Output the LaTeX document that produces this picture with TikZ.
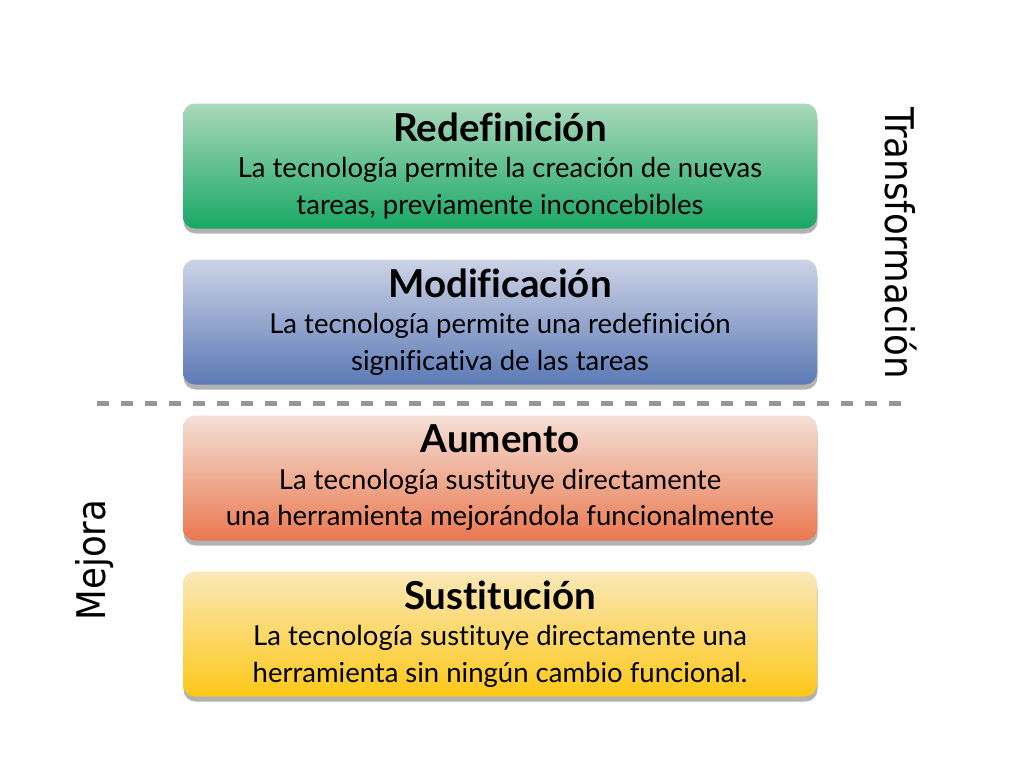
\documentclass[tikz,border=0pt]{standalone}
\usepackage{fontspec}
\setmainfont{Lato}[Ligatures=NoCommon]
\newfontfamily\sidefont{DejaVu Sans Condensed}
\usetikzlibrary{shadows}
\definecolor{gtop}{RGB}{170,216,186}
\definecolor{gbot}{RGB}{24,168,102}
\definecolor{btop}{RGB}{204,211,230}
\definecolor{bbot}{RGB}{92,122,182}
\definecolor{otop}{RGB}{244,224,214}
\definecolor{obot}{RGB}{234,120,80}
\definecolor{ytop}{RGB}{250,232,184}
\definecolor{ybot}{RGB}{253,200,24}
\definecolor{dashgray}{RGB}{150,150,150}
\begin{document}
\begin{tikzpicture}[x=1pt,y=-1pt]
\useasboundingbox[fill=white] (0,0) rectangle (1024,768);
\tikzset{
  layer/.style={rounded corners=12pt, minimum width=634pt, minimum height=125pt,
    inner sep=0pt, align=center,
    drop shadow={shadow xshift=0.5pt, shadow yshift=-5pt, opacity=0.6},
    font=\fontsize{27.5}{36.5}\selectfont},
  sidelabel/.style={font=\sidefont\fontsize{39.5}{42}\selectfont, inner sep=0pt}
}
\newcommand{\ttlfmt}[1]{{\fontsize{38.5}{36}\selectfont\bfseries #1}}
\node[layer, top color=gtop, bottom color=gbot] (red) at (500,166)
  {\ttlfmt{Redefinición}\\La tecnología permite la creación de nuevas\\tareas, previamente inconcebibles};
\node[layer, top color=btop, bottom color=bbot] (mod) at (500,322)
  {\ttlfmt{Modificación}\\La tecnología permite una redefinición\\significativa de las tareas};
\node[layer, top color=otop, bottom color=obot] (aum) at (500,478)
  {\ttlfmt{Aumento}\\La tecnología sustituye directamente\\una herramienta mejorándola funcionalmente};
\node[layer, top color=ytop, bottom color=ybot] (sus) at (500,634)
  {\ttlfmt{Sustitución}\\La tecnología sustituye directamente una\\herramienta sin ningún cambio funcional.};
\coordinate (dl) at (97,403);
\coordinate (dr) at (902,403);
\draw[dashgray, line width=5pt, dash pattern=on 12pt off 12pt] (dl) -- (dr);
\node[sidelabel, rotate=-90] (tra) at (901,243) {Transformación};
\node[sidelabel, rotate=90] (mej) at (95,560) {Mejora};
\end{tikzpicture}
\end{document}
